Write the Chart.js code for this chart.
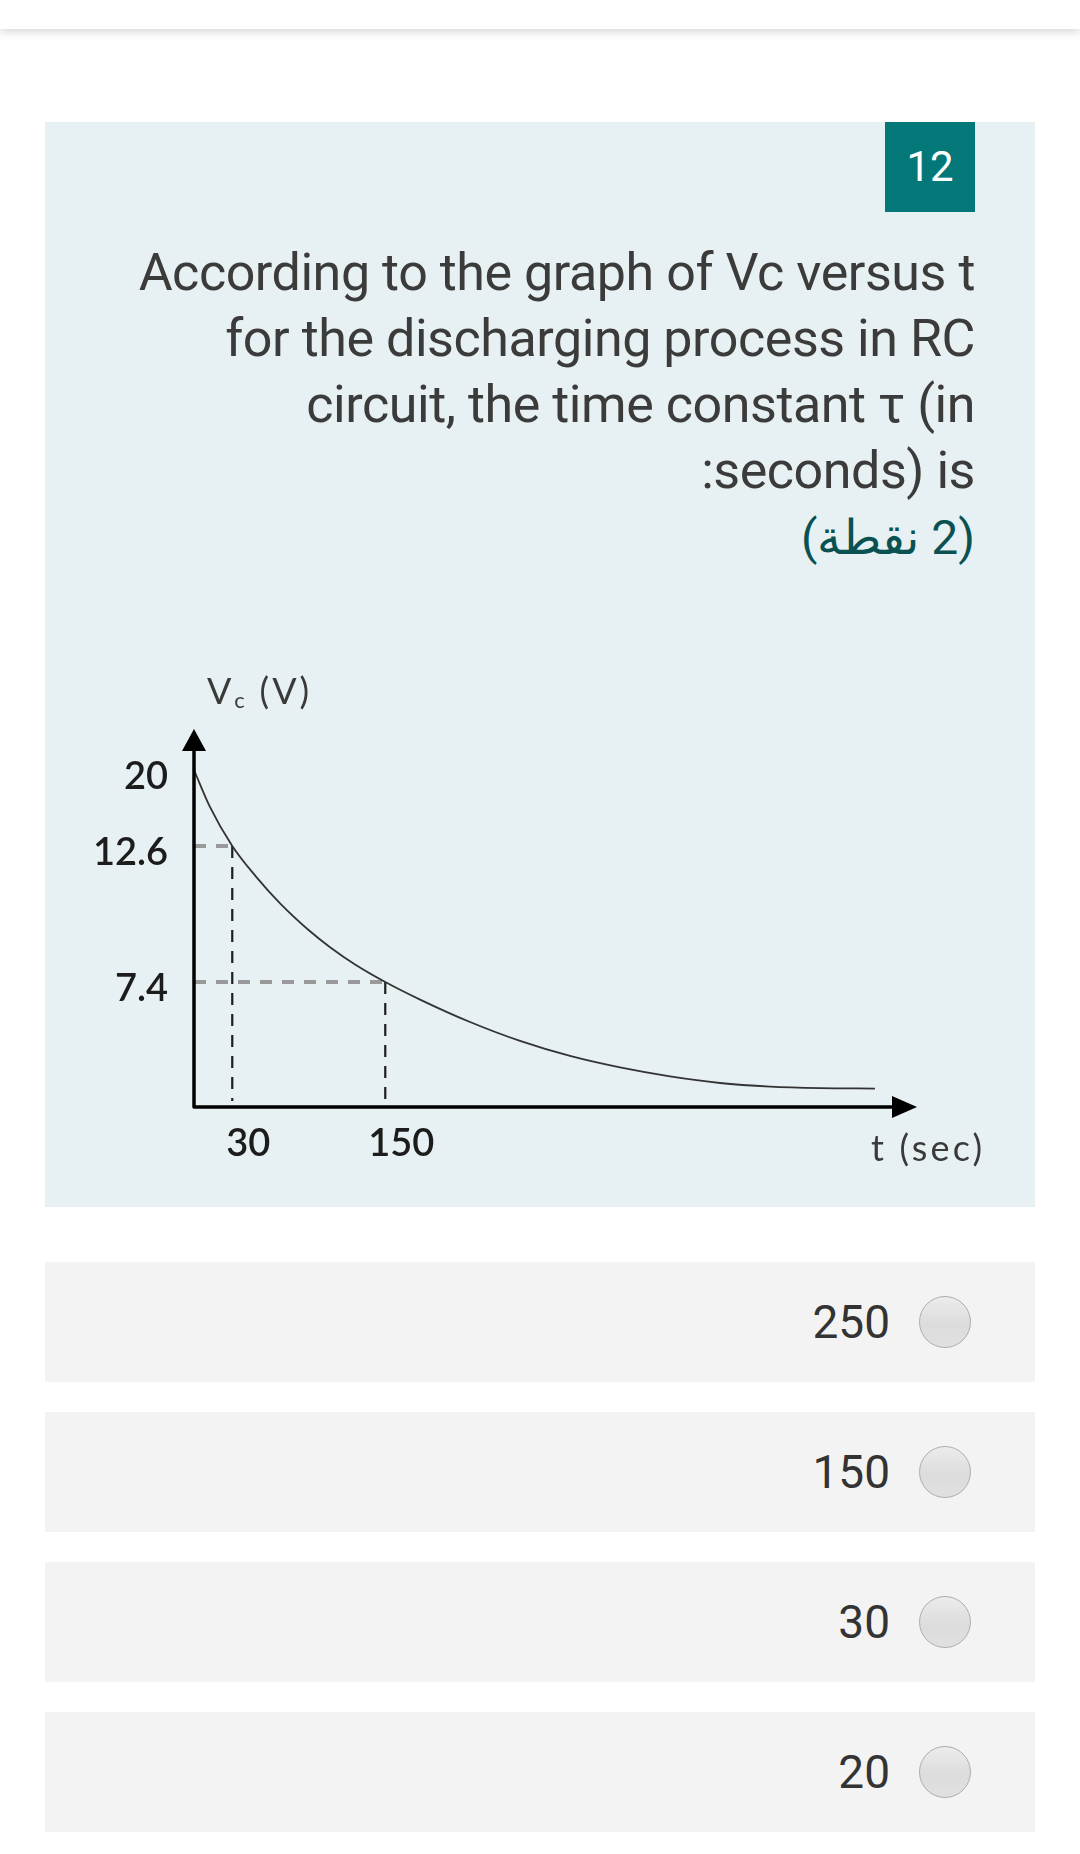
<!DOCTYPE html>
<html>
<head>
<meta charset="utf-8">
<script src="https://cdn.jsdelivr.net/npm/chart.js@4/dist/chart.umd.min.js"></script>
<style>
  html, body { margin: 0; padding: 0; }
  body { width: 1080px; height: 1854px; background: #ffffff; position: relative; overflow: hidden; font-family: Roboto, "Noto Sans", sans-serif; }
  .topbar { position: absolute; left: 0; top: 0; width: 1080px; height: 29px; background: #fff; box-shadow: 0 3px 9px rgba(0,0,0,0.16); }
  .card { position: absolute; left: 45px; top: 122px; width: 990px; height: 1085px; background: #e7f0f2; }
  .badge { position: absolute; left: 885px; top: 122px; width: 90px; height: 90px; background: #047878; color: #fff; font-size: 42px; line-height: 90px; text-align: center; }
  .question { position: absolute; left: 60px; top: 240px; width: 915px; text-align: right; color: #3b3b3b; font-size: 52px; line-height: 66px; letter-spacing: -0.45px; }
  .points { position: absolute; left: 560px; top: 505px; width: 415px; text-align: right; color: #0a5252; font-size: 48px; line-height: 66px; }
  .chartwrap { position: absolute; left: 0; top: 700px; width: 1080px; height: 500px; }
  .axlabel { position: absolute; font-family: Lato, "Open Sans", sans-serif; font-size: 36px; color: #3a3a3a; line-height: 40px; white-space: nowrap; }
  .axlabel sub { font-size: 22px; vertical-align: -4px; }
  .opt { position: absolute; left: 45px; width: 990px; height: 120px; background: #f3f3f3; }
  .opt .txt { position: absolute; right: 145px; top: 37px; font-size: 46px; line-height: 46px; color: #333; }
  .opt .radio { position: absolute; left: 874px; top: 34px; width: 50px; height: 50px; border-radius: 50%; border: 1.5px solid #aeaeae; background: linear-gradient(#ececec, #dcdcdc 55%, #e0e0e0); }
</style>
</head>
<body>
<div class="topbar"></div>
<div class="card"></div>
<div class="badge">12</div>
<div class="question">According to the graph of Vc versus t<br>for the discharging process in RC<br>circuit, the time constant τ (in<br>:seconds) is</div>
<div class="points" dir="rtl">(2 نقطة)</div>
<div class="chartwrap"><canvas id="c" width="1080" height="500"></canvas></div>
<div class="axlabel" style="left:207px; top:670px; letter-spacing:2.8px;">V<sub>c</sub> (V)</div>
<div class="axlabel" style="left:871px; top:1127px; letter-spacing:3.2px;">t (sec)</div>
<div id="opts"></div>
<script>
// ---- data ----
const times    = [0, 12.5, 30, 48.6, 67.5, 91, 106.7, 126.3, 150, 177.3, 216.5, 255.7, 294.9, 334.1, 373.3, 412.5, 451.8, 491, 534];
const voltages = [20, 16.4, 12.6, 11.43, 10.41, 9.34, 8.73, 8.07, 7.4, 6.36, 5.03, 3.91, 3.02, 2.34, 1.81, 1.42, 1.21, 1.12, 1.09];
const guideTimes = [30, 150];
const guideVolts = [12.6, 7.4];
const xTickValues = [30, 150];
const xTickLabels = ['30', '150'];
const yTickValues = [20, 12.6, 7.4];
const yTickLabels = ['20', '12.6', '7.4'];
const xRange = [0, 567];
const yRange = [0, 22];
const optionLabels = ['250', '150', '30', '20'];

// ---- layout of the schematic (not drawn to scale) vertical axis ----
const yAxisAnchorValues = [0, 7.4, 12.6, 20, 22];
const yAxisAnchorFractions = [0, 0.3307, 0.6905, 0.8915, 1];

class SchematicScale extends Chart.LinearScale {
  _toFrac(v) {
    const a = yAxisAnchorValues, f = yAxisAnchorFractions;
    let i = 0;
    while (i < a.length - 2 && v > a[i + 1]) i++;
    return f[i] + (v - a[i]) / (a[i + 1] - a[i]) * (f[i + 1] - f[i]);
  }
  getPixelForValue(v) {
    if (v === null || v === undefined || isNaN(v)) return NaN;
    return this.getPixelForDecimal(this._toFrac(v));
  }
  getValueForPixel(p) {
    const d = this.getDecimalForPixel(p);
    const a = yAxisAnchorValues, f = yAxisAnchorFractions;
    let i = 0;
    while (i < f.length - 2 && d > f[i + 1]) i++;
    return a[i] + (d - f[i]) / (f[i + 1] - f[i]) * (a[i + 1] - a[i]);
  }
}
SchematicScale.id = 'schematic';
SchematicScale.defaults = {};
Chart.register(SchematicScale);

const axisArrows = {
  id: 'axisArrows',
  afterDatasetsDraw(chart) {
    const ctx = chart.ctx, a = chart.chartArea;
    ctx.save();
    ctx.strokeStyle = '#000'; ctx.fillStyle = '#000';
    ctx.lineWidth = 3.5; ctx.lineJoin = 'round'; ctx.lineCap = 'butt';
    ctx.beginPath();
    ctx.moveTo(a.left, a.top + 18);
    ctx.lineTo(a.left, a.bottom);
    ctx.lineTo(a.right - 18, a.bottom);
    ctx.stroke();
    ctx.beginPath();
    ctx.moveTo(a.left, a.top); ctx.lineTo(a.left - 12, a.top + 22); ctx.lineTo(a.left + 12, a.top + 22);
    ctx.closePath(); ctx.fill();
    ctx.beginPath();
    ctx.moveTo(a.right, a.bottom); ctx.lineTo(a.right - 25, a.bottom - 11); ctx.lineTo(a.right - 25, a.bottom + 11);
    ctx.closePath(); ctx.fill();
    ctx.restore();
  }
};

const curve = times.map((t, i) => ({ x: t, y: voltages[i] }));
const datasets = [{
  data: curve, borderColor: '#333333', borderWidth: 1.8, pointRadius: 0,
  cubicInterpolationMode: 'monotone', order: 0, clip: false
}];
guideTimes.forEach((t, i) => {
  datasets.push({ data: [{ x: 0, y: guideVolts[i] }, { x: t, y: guideVolts[i] }],
    borderColor: '#9a9a9a', borderWidth: 4, borderDash: [12, 10], pointRadius: 0, order: 2 });
  datasets.push({ data: [{ x: t, y: guideVolts[i] }, { x: t, y: 0.35 }],
    borderColor: '#1e1e1e', borderWidth: 2.2, borderDash: [12, 9], pointRadius: 0, order: 1 });
});

const tickFont = { family: 'Lato, "Open Sans", sans-serif', size: 38, weight: '600' };
new Chart(document.getElementById('c'), {
  type: 'line',
  data: { datasets },
  options: {
    responsive: false, animation: false, devicePixelRatio: 1,
    layout: { padding: { left: 0, right: 163, top: 29, bottom: 0 } },
    plugins: { legend: { display: false }, tooltip: { enabled: false } },
    scales: {
      x: {
        type: 'linear', min: xRange[0], max: xRange[1],
        grid: { display: false, drawTicks: false }, border: { display: false },
        afterBuildTicks: s => { s.ticks = xTickValues.map(v => ({ value: v })); },
        afterFit: s => { s.height = 93; s.paddingLeft = 0; s.paddingRight = 0; },
        ticks: { font: tickFont, color: '#1c1c1c', padding: 14, labelOffset: 16, maxRotation: 0,
          callback: (v, i) => xTickLabels[i] }
      },
      y: {
        type: 'schematic', min: yRange[0], max: yRange[1],
        grid: { display: false, drawTicks: false }, border: { display: false },
        afterBuildTicks: s => { s.ticks = yTickValues.map(v => ({ value: v })); },
        afterFit: s => { s.width = 194; s.paddingTop = 0; s.paddingBottom = 0; },
        ticks: { font: tickFont, color: '#1c1c1c', padding: 26, labelOffset: 7,
          callback: (v, i) => yTickLabels[i] }
      }
    }
  },
  plugins: [axisArrows]
});

// ---- answer options ----
const optsEl = document.getElementById('opts');
optionLabels.forEach((lab, i) => {
  const row = document.createElement('div');
  row.className = 'opt';
  row.style.top = (1262 + i * 150) + 'px';
  row.innerHTML = '<span class="txt">' + lab + '</span><span class="radio"></span>';
  optsEl.appendChild(row);
});
</script>
</body>
</html>
